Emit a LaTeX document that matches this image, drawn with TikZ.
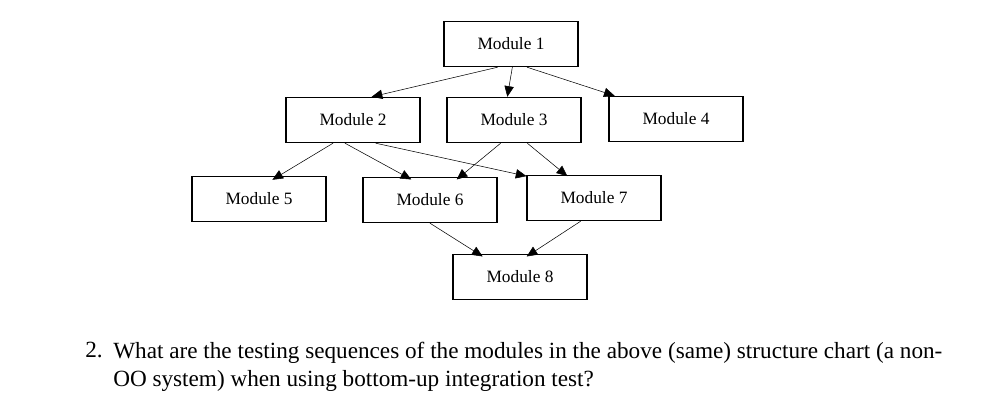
\documentclass[tikz,border=0pt]{standalone}
\usepackage{fontspec}
\setmainfont{Liberation Serif}
\usetikzlibrary{arrows.meta}
\tikzset{
  module/.style={rectangle, draw, thick, minimum width=100.5pt, minimum height=34pt,
                 font=\fontsize{13}{15}\selectfont, inner sep=0pt},
  link/.style={-{Triangle[length=8pt, width=7pt]}, thin},
}
\begin{document}
\begin{tikzpicture}[x=0.75pt, y=-0.75pt]
  \useasboundingbox (0,0) rectangle (1006,418);
  % modules
  \node[module] (m1) at (511,44) {Module 1};
  \node[module] (m2) at (353,120) {Module 2};
  \node[module] (m3) at (514,120) {Module 3};
  \node[module] (m4) at (676,119) {Module 4};
  \node[module] (m5) at (259,199) {Module 5};
  \node[module] (m6) at (430,200) {Module 6};
  \node[module] (m7) at (594,198) {Module 7};
  \node[module] (m8) at (520,277) {Module 8};

  % calls
  \draw[link] ([xshift=-10pt]m1.south) -- ([xshift=14pt]m2.north);
  \draw[link] ([xshift=1pt]m1.south) -- ([xshift=-5pt]m3.north);
  \draw[link] ([xshift=12pt]m1.south) -- ([xshift=-46pt]m4.north);
  \draw[link] ([xshift=-15pt]m2.south) -- ([xshift=10pt,yshift=-3pt]m5.north);
  \draw[link] ([xshift=-6pt]m2.south) -- ([xshift=-14pt,yshift=-2pt]m6.north);
  \draw[link] ([xshift=17pt]m2.south) -- ([yshift=-1pt]m7.north west);
  \draw[link] ([xshift=-10pt]m3.south) -- ([xshift=20pt,yshift=-2pt]m6.north);
  \draw[link] ([xshift=10pt]m3.south) -- ([xshift=-20pt,yshift=-1pt]m7.north);
  \draw[link] (m6.south) -- ([xshift=-28pt,yshift=-2pt]m8.north);
  \draw[link] ([xshift=-10pt]m7.south) -- ([xshift=5pt,yshift=-2pt]m8.north);

  % question
  \node[anchor=north west, font=\fontsize{17.4}{21}\selectfont, align=left,
        inner sep=0pt] (q) at (113,342)
    {What are the testing sequences of the modules in the above (same) structure chart (a non-\\OO system) when using bottom-up integration test?};
  \node[anchor=north east, font=\fontsize{17.4}{21}\selectfont, inner sep=0pt] (qn)
    at (103,342) {2.};
\end{tikzpicture}
\end{document}
